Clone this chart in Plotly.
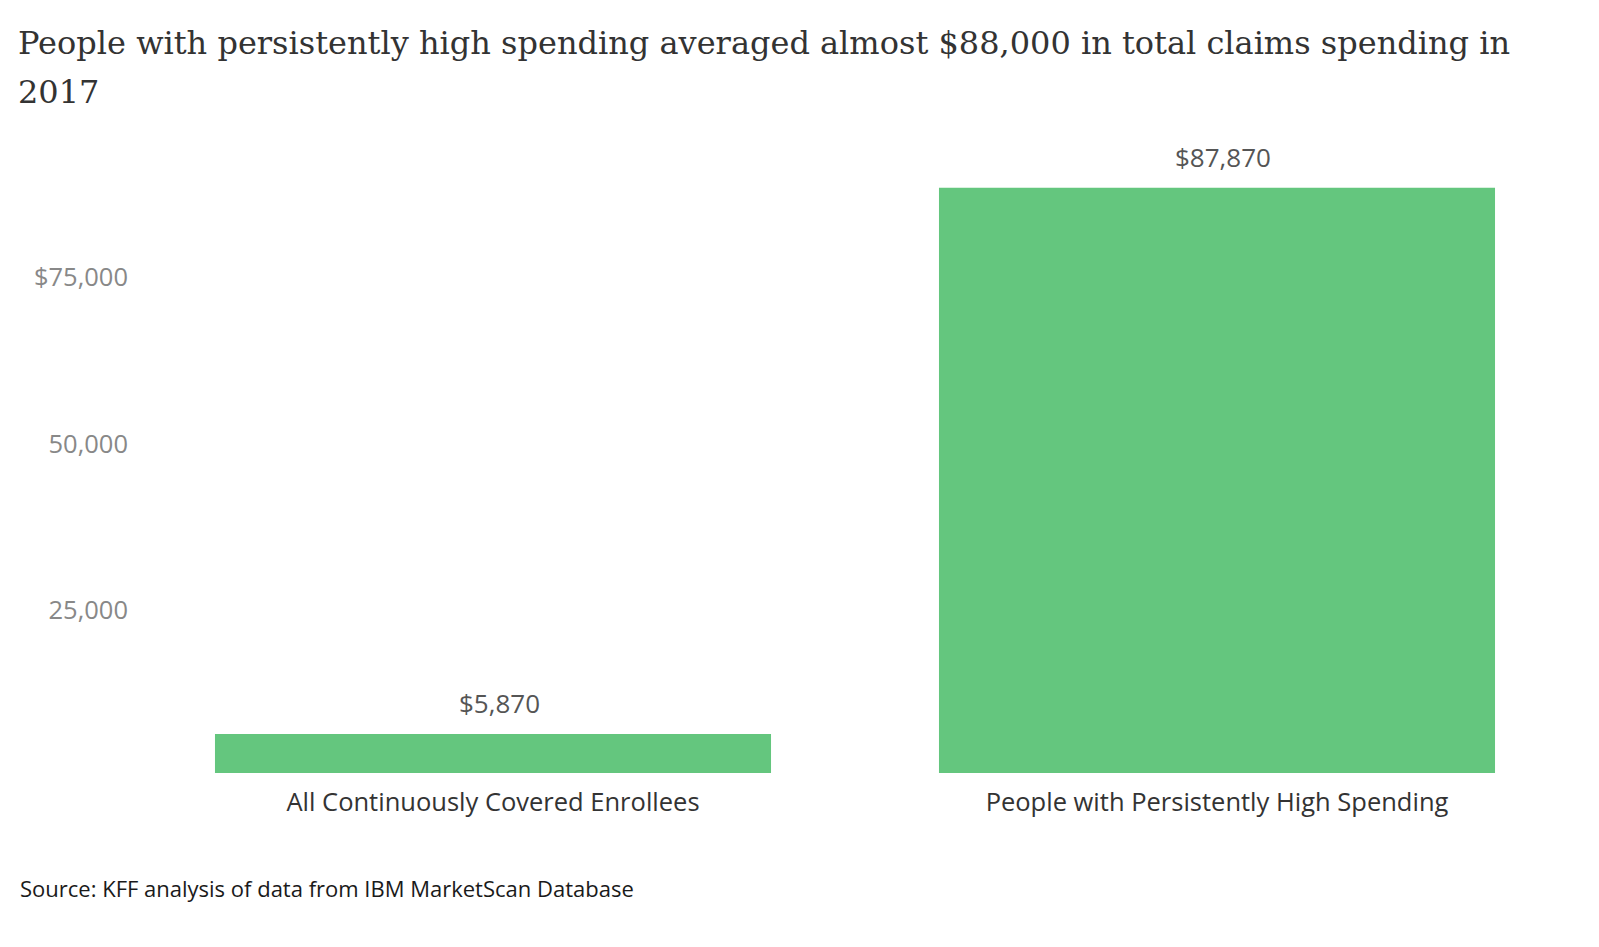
import plotly.graph_objects as go

categories = ["All Continuously Covered Enrollees", "People with Persistently High Spending"]
values = [5870, 87870]
value_labels = ["$5,870", "$87,870"]
tick_values = [25000, 50000, 75000]
tick_labels = ["25,000", "50,000", "$75,000"]

title_lines = ["People with persistently high spending averaged almost $88,000 in total claims spending in", "2017"]
source_text = "Source: KFF analysis of data from IBM MarketScan Database"

BAR_COLOR = "#64c67e"
SANS = "'Open Sans', Lato, sans-serif"
SERIF = "'DejaVu Serif', serif"

W, H = 1599, 947
ML, MR, MT, MB = 131, 20, 143, 174
PW, PH = W - ML - MR, H - MT - MB


def px_x(x):
    return (x - ML) / PW


def px_y(y):
    return (H - MB - y) / PH


fig = go.Figure()
fig.add_trace(go.Bar(
    x=categories,
    y=values,
    marker=dict(color=BAR_COLOR, line=dict(width=0)),
    hoverinfo="skip",
))

annotations = []
for c, v, lab in zip(categories, values, value_labels):
    annotations.append(dict(
        x=c, y=v, xref="x", yref="y", text=lab, showarrow=False,
        yanchor="bottom", yshift=11, xshift=6,
        font=dict(family=SANS, size=26, color="#555555"),
    ))
for line, yc in zip(title_lines, [43, 92]):
    annotations.append(dict(
        x=px_x(16), y=px_y(yc), xref="paper", yref="paper",
        text=line, showarrow=False, xanchor="left", yanchor="middle",
        font=dict(family=SERIF, size=32, color="#333333"),
    ))
annotations.append(dict(
    x=px_x(18), y=px_y(888), xref="paper", yref="paper",
    text=source_text, showarrow=False, xanchor="left", yanchor="middle",
    font=dict(family=SANS, size=22, color="#1a1a1a"),
))

fig.update_layout(
    width=W, height=H,
    paper_bgcolor="white", plot_bgcolor="white",
    margin=dict(l=ML, r=MR, t=MT, b=MB),
    bargap=0.232,
    showlegend=False,
    xaxis=dict(
        showgrid=False, zeroline=False, showline=False, ticks="",
        tickfont=dict(family=SANS, size=25.5, color="#333333"),
        ticklabelstandoff=11,
    ),
    yaxis=dict(
        range=[0, 94600], showgrid=False, zeroline=False, showline=False,
        tickvals=tick_values, ticktext=tick_labels, ticks="",
        tickfont=dict(family=SANS, size=25.5, color="#888888"),
        ticklabelstandoff=2, ticklabelshift=4,
    ),
    annotations=annotations,
)

fig.write_html(
    "out.html",
    config={"displayModeBar": False},
    post_script="document.body.style.margin='0';document.body.style.overflow='hidden';",
)
